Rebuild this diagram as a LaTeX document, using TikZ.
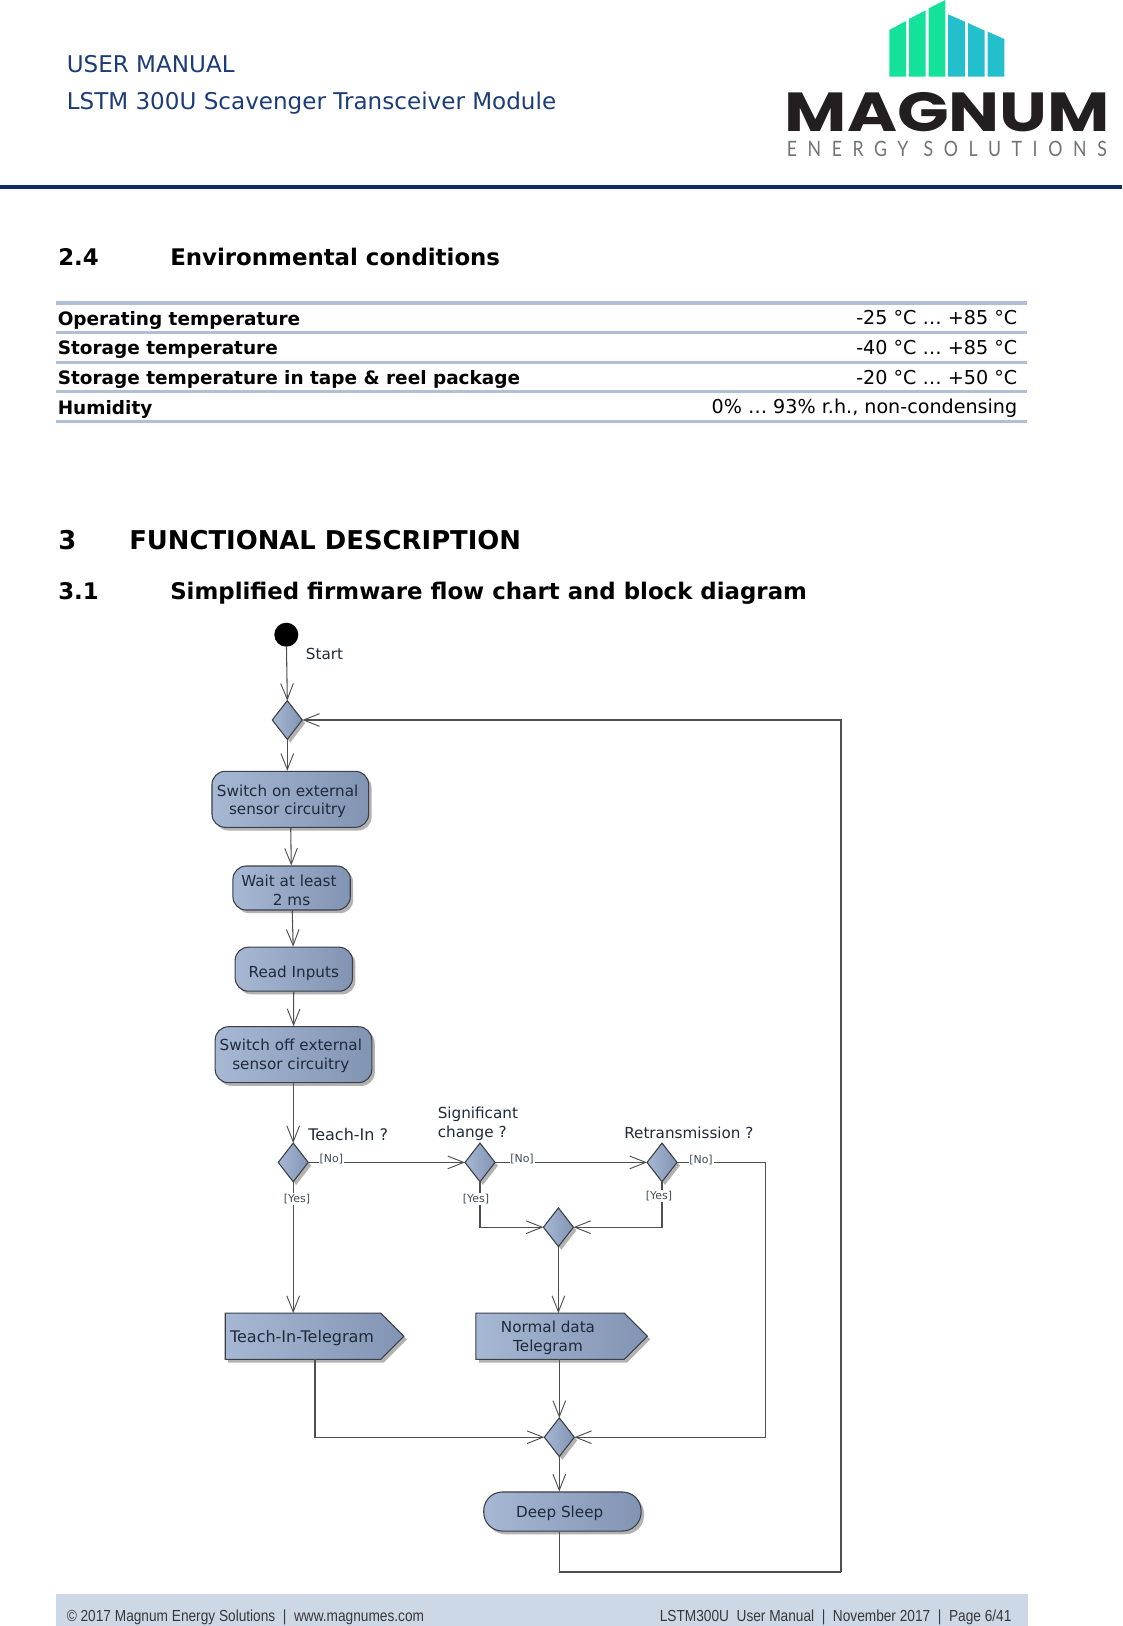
\documentclass[tikz,border=0pt]{standalone}
\usepackage{fontspec}
\usepackage{graphicx}
\setmainfont{DejaVu Sans}
\newfontfamily\footfont[FakeStretch=0.855]{Liberation Sans}
\newfontfamily\logofont{Poppins}
\newfontfamily\sublogofont[LetterSpace=60]{Lato}
\usetikzlibrary{arrows.meta,shapes.geometric,shapes.symbols,shadows}
\newcommand{\lift}[1]{\rule{0pt}{#1}}
\newcommand{\pad}{\hspace*{4pt}}
\definecolor{navytext}{HTML}{1C3C78}
\definecolor{navyrule}{HTML}{0F2E66}
\definecolor{tablerule}{HTML}{B0BFD7}
\definecolor{footband}{HTML}{CDD8E6}
\definecolor{boxleft}{HTML}{A6B8D3}
\definecolor{boxright}{HTML}{8294B3}
\definecolor{boxedge}{HTML}{3A3F48}
\definecolor{boxtext}{HTML}{1F2A3A}
\definecolor{flowgrey}{HTML}{4F4F4F}
\definecolor{logogreen}{HTML}{14E29A}
\definecolor{logoteal}{HTML}{24BFCC}
\definecolor{logoblack}{HTML}{231F20}
\tikzset{
  boxshade/.style={draw=boxedge,line width=.8pt,left color=boxleft,right color=boxright,text=boxtext,
    drop shadow={shadow xshift=2.2pt,shadow yshift=-2.4pt,fill=black,opacity=.3}},
  action/.style={boxshade,rectangle,rounded corners=10pt,inner sep=0pt,align=center,
    font=\fontsize{11.4pt}{14pt}\selectfont},
  decision/.style={boxshade,diamond,inner sep=0pt,outer sep=0pt,minimum width=22.5pt,minimum height=29pt},
  sendbox/.style={boxshade,signal,signal to=east,signal from=nowhere,signal pointer angle=90,inner sep=0pt,outer sep=0pt},
  boxlabel/.style={text=boxtext,align=center,font=\fontsize{11.4pt}{14pt}\selectfont},
  sidelabel/.style={text=boxtext,anchor=west,inner sep=0pt,align=left,font=\fontsize{11.4pt}{14pt}\selectfont},
  guard/.style={fill=white,text=boxtext!85,inner sep=.6pt,font=\fontsize{8.2pt}{9pt}\selectfont},
  flow/.style={draw=flowgrey,line width=.8pt,-{Straight Barb[length=12pt,width=9.5pt,line width=.7pt]}},
  flowplain/.style={draw=flowgrey,line width=.8pt},
  headtxt/.style={anchor=base west,inner sep=0pt,font=\fontsize{17.3pt}{20pt}\selectfont,text=navytext},
  secthead/.style={anchor=base west,inner sep=0pt,font=\bfseries\fontsize{17.15pt}{20pt}\selectfont},
  chapthead/.style={anchor=base west,inner sep=0pt,font=\bfseries\fontsize{19.4pt}{22pt}\selectfont},
  rowname/.style={anchor=base west,inner sep=0pt,font=\bfseries\fontsize{13.85pt}{17pt}\selectfont},
  rowvalue/.style={anchor=base east,inner sep=0pt,font=\fontsize{14.35pt}{17pt}\selectfont},
  footleft/.style={anchor=west,inner sep=0pt,text=black!78,font=\footfont\fontsize{12pt}{14pt}\selectfont},
  footright/.style={anchor=east,inner sep=0pt,text=black!78,font=\footfont\fontsize{12pt}{14pt}\selectfont},
  tablerow/.style={draw=tablerule,line width=2.6pt},
}
\begin{document}
\begin{tikzpicture}[x=.75pt,y=-.75pt]
\useasboundingbox (0,0) rectangle (1122,1626);
% page header
\node[headtxt] (usermanual) at (66.5,73) {USER MANUAL};
\node[headtxt] (moduletitle) at (66.5,110) {LSTM 300U Scavenger Transceiver Module};
\fill[logogreen] (889.3,30) -- (906,21) -- (906,76.7) -- (889.3,76.7) -- cycle;
\fill[logogreen] (909,19) -- (925.7,10.3) -- (925.7,76.7) -- (909,76.7) -- cycle;
\fill[logogreen] (928.7,8.3) -- (945.3,0) -- (945.3,76.7) -- (928.7,76.7) -- cycle;
\fill[logoteal] (948,14.3) -- (965,21.7) -- (965,76.7) -- (948,76.7) -- cycle;
\fill[logoteal] (968,23) -- (984.7,30.7) -- (984.7,76.7) -- (968,76.7) -- cycle;
\fill[logoteal] (987.7,31.7) -- (1004.3,39) -- (1004.3,76.7) -- (987.7,76.7) -- cycle;
\node[anchor=south west,inner sep=0pt,text=logoblack] (logoname) at (784.5,132.3) {\resizebox{244pt}{29.3pt}{\logofont\bfseries MAGNUM}};
\node[anchor=south west,inner sep=0pt,text=black!55] (logosub) at (786.5,156.7) {\resizebox{240pt}{11.5pt}{\sublogofont ENERGY SOLUTIONS}};
\fill[navyrule] (0,185.5) rectangle (1122,189.5);
% section 2.4
\node[secthead] (numenv) at (58,265.5) {2.4};
\node[secthead] (titleenv) at (170,265.5) {Environmental conditions};
\draw[tablerow] (56,303) -- (1027,303);
\draw[tablerow] (56,332.3) -- (1027,332.3);
\draw[tablerow] (56,362.3) -- (1027,362.3);
\draw[tablerow] (56,391.3) -- (1027,391.3);
\draw[tablerow] (56,421.3) -- (1027,421.3);
\node[rowname] (rowop) at (57.5,325.5) {Operating temperature};
\node[rowvalue] (valop) at (1017.5,325) {-25 °C … +85 °C};
\node[rowname] (rowst) at (57.5,354.8) {Storage temperature};
\node[rowvalue] (valst) at (1017.5,354.5) {-40 °C … +85 °C};
\node[rowname] (rowtape) at (57.5,384.6) {Storage temperature in tape \& reel package};
\node[rowvalue] (valtape) at (1017.5,384) {-20 °C … +50 °C};
\node[rowname] (rowhum) at (57.5,414) {Humidity};
\node[rowvalue] (valhum) at (1017.5,413.5) {0\% … 93\% r.h., non-condensing};
% section 3
\node[chapthead] (numfunc) at (58,549.5) {3};
\node[chapthead] (titlefunc) at (129,549.5) {FUNCTIONAL DESCRIPTION};
\node[secthead] (numflow) at (58,599.5) {3.1};
\node[secthead] (titleflow) at (170,599.5) {Simplified firmware flow chart and block diagram};
% flow chart
\node[circle,fill=black,inner sep=0pt,minimum size=18pt] (start) at (286.3,634.7) {};
\node[sidelabel] (startlabel) at (305.7,654) {Start};
\node[decision] (dstart) at (287.3,720) {};
\node[action,minimum width=117.5pt,minimum height=42pt] (boxon) at (290.3,799.3) {\lift{11.7pt}Switch on external\pad\\sensor circuitry\pad};
\node[action,minimum width=88pt,minimum height=33pt] (boxwait) at (291.6,888) {\lift{11.7pt}Wait at least\pad\\2 ms};
\node[action,minimum width=88pt,minimum height=33pt] (boxread) at (293.8,969.2) {\lift{14.5pt}Read Inputs};
\node[action,minimum width=117.5pt,minimum height=42pt] (boxoff) at (293.5,1054.7) {\lift{10.2pt}Switch off external\pad\\sensor circuitry\pad};
\node[decision] (dteach) at (293.2,1162.4) {};
\node[decision] (dsig) at (480,1162.4) {};
\node[decision] (dretrans) at (662,1162.4) {};
\node[decision] (dmerge) at (558.4,1227.2) {};
\node[decision] (dend) at (559.3,1437.2) {};
\node[sidelabel,font=\fontsize{12pt}{14pt}\selectfont] (lblteach) at (308,1134.5) {Teach-In ?};
\node[sidelabel] (lblsig) at (437.5,1123.5) {Significant\\change ?};
\node[sidelabel] (lblretrans) at (624,1132.5) {Retransmission ?};
\node[sendbox,minimum width=134pt,minimum height=34.7pt] (sendteach) at (303,1336.2) {};
\node[boxlabel,font=\fontsize{12pt}{14pt}\selectfont] (txtteach) at (302,1338.5) {Teach-In-Telegram};
\node[sendbox,minimum width=128.6pt,minimum height=34.7pt] (sendnormal) at (550,1336.2) {};
\node[boxlabel] (txtnormal) at (548,1338) {Normal data\\Telegram};
\node[action,minimum width=118pt,minimum height=29.3pt,rounded corners=14pt] (deepsleep) at (562.4,1511.5) {\lift{11.7pt}Deep Sleep\pad};
\coordinate (teachout) at (315,1359.3);
\coordinate (cornerno) at (765.7,1437.2);
\coordinate (cornerloop) at (841,1572);
\draw[flow] (start) -- (dstart.north);
\draw[flow] (dstart.south) -- (dstart.south |- boxon.north);
\draw[flow] (boxon) -- (boxwait);
\draw[flow] (boxwait) -- (boxread);
\draw[flow] (boxread) -- (boxoff);
\draw[flow] (boxoff.south -| dteach) -- (dteach.north);
\draw[flow] (dteach.south) -- (dteach.south |- sendteach.north);
\draw[flow] (dteach.east) -- (dsig.west);
\draw[flow] (dsig.east) -- (dretrans.west);
\draw[flow] (dsig.south) |- (dmerge.west);
\draw[flow] (dretrans.south) |- (dmerge.east);
\draw[flow] (dmerge.south) -- (dmerge.south |- sendnormal.north);
\draw[flow] (teachout) |- (dend.west);
\draw[flow] (dend.north |- sendnormal.south) -- (dend.north);
\draw[flowplain] (dretrans.east) -| (cornerno);
\draw[flow] (cornerno) -- (dend.east);
\draw[flow] (dend.south) -- (dend.south |- deepsleep.north);
\draw[flowplain] (dend.south |- deepsleep.south) |- (cornerloop);
\draw[flow] (cornerloop) |- (dstart.east);
\node[guard] (noteach) at (331.4,1159) {[No]};
\node[guard] (yesteach) at (297,1199) {[Yes]};
\node[guard] (nosig) at (522,1159) {[No]};
\node[guard] (yessig) at (476,1199) {[Yes]};
\node[guard] (noretrans) at (701,1160) {[No]};
\node[guard] (yesretrans) at (659,1196) {[Yes]};
% page footer
\fill[footband] (56,1594.3) rectangle (1028,1626);
\node[footleft] (footcopy) at (66.5,1617) {© 2017 Magnum Energy Solutions \ |\ \ www.magnumes.com};
\node[footright] (footpage) at (1011.7,1617) {LSTM300U\ \ User Manual\ \ |\ \ November 2017\ \ |\ \ Page 6/41};
\end{tikzpicture}
\end{document}
